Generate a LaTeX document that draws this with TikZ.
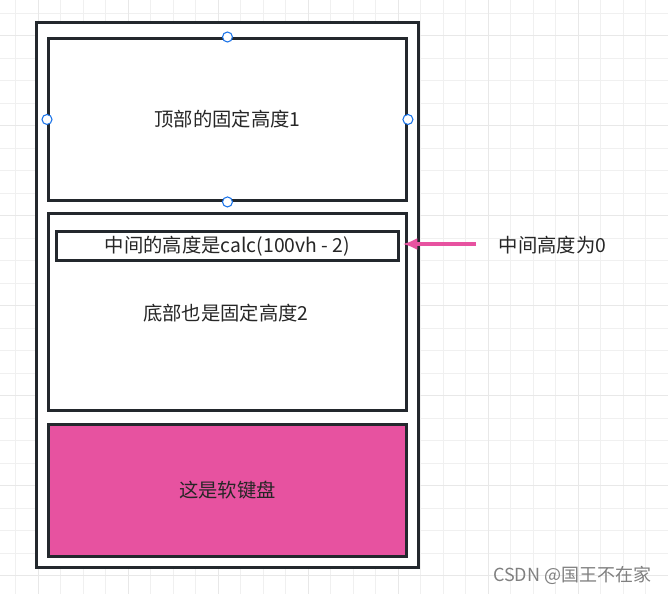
\documentclass[tikz,border=0pt]{standalone}
\usepackage{fontspec}
\usetikzlibrary{arrows.meta}
\setmainfont{Noto Sans CJK SC}
\definecolor{pinkf}{HTML}{E752A0}
\definecolor{edge}{HTML}{23282D}
\definecolor{hblue}{HTML}{1A73E8}
\begin{document}
\begin{tikzpicture}[x=0.75pt,y=-0.75pt,
  box/.style={draw=edge,line width=2.2pt},
  handle/.style={circle,draw=hblue,fill=white,line width=0.8pt,inner sep=0pt,minimum size=7.5pt},
  lbl/.style={font=\fontsize{14.5}{16}\selectfont,text=black!85}]
\useasboundingbox (0,0) rectangle (668,594);
\fill[white] (0,0) rectangle (668,594);
\foreach \x in {15.5,38,...,668} \draw[black!6,line width=0.6pt] (\x,0)--(\x,594);
\foreach \y in {13,35.5,...,594} \draw[black!6,line width=0.6pt] (0,\y)--(668,\y);
\foreach \x in {38,128,...,668} \draw[black!9,line width=0.7pt] (\x,0)--(\x,594);
\foreach \y in {35.5,125.5,...,594} \draw[black!9,line width=0.7pt] (0,\y)--(668,\y);
\node[box,fill=white,minimum width=382*0.75pt,minimum height=545*0.75pt,anchor=north west,inner sep=0pt] (outer) at (35,21) {};
\node[box,minimum width=358*0.75pt,minimum height=162*0.75pt,anchor=north west,inner sep=0pt,lbl] (top) at (47,37) {顶部的固定高度1};
\node[box,minimum width=358*0.75pt,minimum height=197*0.75pt,anchor=north west,inner sep=0pt] (mid) at (47,212) {};
\node[lbl] (midt) at (226,313) {底部也是固定高度2};
\node[box,minimum width=342*0.75pt,minimum height=29*0.75pt,anchor=north west,inner sep=0pt,lbl] (inner) at (55,230) {中间的高度是calc(100vh - 2)};
\node[box,fill=pinkf,minimum width=358*0.75pt,minimum height=132*0.75pt,anchor=north west,inner sep=0pt,lbl] (kb) at (47,423) {这是软键盘};
\node[handle] (h1) at (top.north) {};
\node[handle] (h2) at (top.west) {};
\node[handle] (h3) at (top.east) {};
\node[handle] (h4) at (top.south) {};
\node[lbl,anchor=west] (note) at (494,245) {中间高度为0};
\coordinate (as) at (476,244);
\draw[pinkf,line width=2.3pt,-{Latex[length=11pt,width=9pt]}] (as) -- ([xshift=2pt]inner.east |- as);
\node[font=\fontsize{13.5}{15}\selectfont,text=black!50,anchor=east] (wm) at (656,575) {CSDN @国王不在家};
\end{tikzpicture}
\end{document}
